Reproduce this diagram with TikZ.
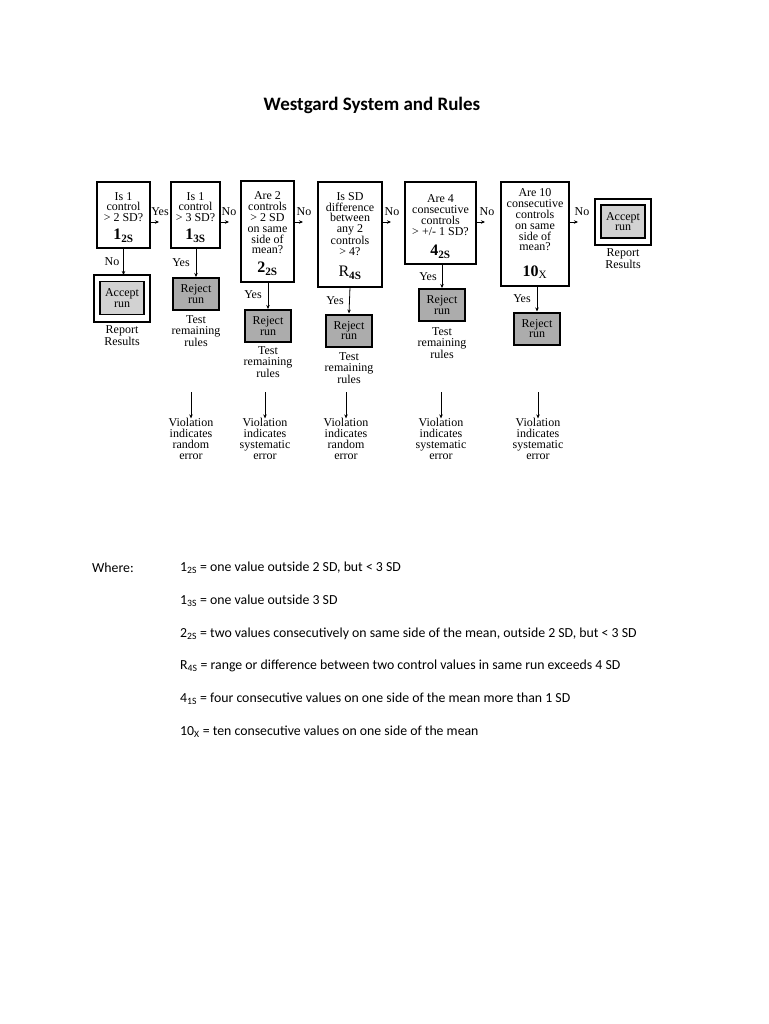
\documentclass[tikz,border=0pt]{standalone}
\usepackage{fontspec}
\setmainfont{Liberation Serif}
\newfontfamily\calfont{Carlito}
\usetikzlibrary{arrows.meta}
\begin{document}
\begin{tikzpicture}[x=1pt,y=-1pt,
 q/.style={draw,line width=2pt},
 t/.style={font=\fontsize{12}{10.8}\selectfont,align=center,inner sep=0},
 lab/.style={font=\fontsize{12}{10.8}\selectfont,inner sep=0},
 big/.style={t,font=\bfseries\fontsize{16}{16}\selectfont},
 ar/.style={-{Stealth[length=4pt,width=3.5pt]},line width=0.8pt},
 rej/.style={draw,line width=2pt,fill=gray!65,font=\fontsize{12}{10.8}\selectfont,align=center,minimum width=46pt,minimum height=32pt,inner sep=0},
 leg/.style={font=\calfont\fontsize{13.8}{14}\selectfont,anchor=west,inner sep=0}]
\useasboundingbox (0,0) rectangle (768,1024);
\node[font=\calfont\bfseries\fontsize{19}{20}\selectfont] (title) at (372,105) {Westgard System and Rules};
% decision boxes
\draw[q] (97,182) rectangle (150,248);
\node[t] (t1) at (123.5,207) {Is 1\\control\\> 2 SD?};
\node[big] (l1) at (123.5,236) {1\textsubscript{2S}};
\draw[q] (171,182) rectangle (220,248);
\node[t] (t2) at (195.5,207) {Is 1\\control\\> 3 SD?};
\node[big] (l2) at (195.5,236) {1\textsubscript{3S}};
\draw[q] (241,181) rectangle (294,282);
\node[t] (t3) at (267.5,223) {Are 2\\controls\\> 2 SD\\on same\\side of\\mean?};
\node[big] (l3) at (267.5,269) {2\textsubscript{2S}};
\draw[q] (318,182) rectangle (382,287);
\node[t] (t4) at (350,224) {Is SD\\difference\\between\\any 2\\controls\\> 4?};
\node[t,font=\fontsize{16}{16}\selectfont] (l4) at (350,273) {R\textsubscript{\bfseries 4S}};
\draw[q] (405,182) rectangle (476,264);
\node[t] (t5) at (440.5,215) {Are 4\\consecutive\\controls\\> +/- 1 SD?};
\node[big] (l5) at (440.5,252) {4\textsubscript{2S}};
\draw[q] (501,182) rectangle (569,286);
\node[t] (t6) at (535,220) {Are 10\\consecutive\\controls\\on same\\side of\\mean?};
\node[big] (l6) at (535,272) {10\textsubscript{\mdseries X}};
% accept boxes
\draw[q] (94,275) rectangle (150,322);
\node[draw,line width=1.2pt,fill=gray!35,t,minimum width=44pt,minimum height=33pt] (a1) at (122,298) {Accept\\run};
\node[t] (r1) at (122,336) {Report\\Results};
\draw[q] (595,199) rectangle (651,245);
\node[draw,line width=1.2pt,fill=gray!35,t,minimum width=44pt,minimum height=33pt] (a2) at (623,221.5) {Accept\\run};
\node[t] (r2) at (623,259) {Report\\Results};
% reject boxes
\node[rej] (j1) at (196,294) {Reject\\run};
\node[rej] (j2) at (268,326) {Reject\\run};
\node[rej] (j3) at (349,330.5) {Reject\\run};
\node[rej] (j4) at (442,305) {Reject\\run};
\node[rej] (j5) at (537,328.5) {Reject\\run};
\node[t] (x1) at (196,331) {Test\\remaining\\rules};
\node[t] (x2) at (268,362) {Test\\remaining\\rules};
\node[t] (x3) at (349,368) {Test\\remaining\\rules};
\node[t] (x4) at (442,343) {Test\\remaining\\rules};
% horizontal stubs
\foreach \a/\b in {150/159,220/229,294/303,382/391,476/485,569/578}{
 \draw[ar] (\a,222) -- (\b,222);
}
\node[lab] (y1) at (160,212) {Yes};
\node[lab] (n2) at (229,212) {No};
\node[lab] (n3) at (304,212) {No};
\node[lab] (n4) at (392,212) {No};
\node[lab] (n5) at (487,212) {No};
\node[lab] (n6) at (582,212) {No};
% vertical arrows
\draw[ar] (123.5,248) -- (123.5,275);
\node[lab] (vn1) at (112,262) {No};
\draw[ar] (196,248) -- (j1.north);
\node[lab] (vy2) at (181,263) {Yes};
\draw[ar] (268,282) -- (j2.north);
\node[lab] (vy3) at (253,295) {Yes};
\draw[ar] (350,287) -- (j3.north);
\node[lab] (vy4) at (335,301) {Yes};
\draw[ar] (442,264) -- (j4.north);
\node[lab] (vy5) at (428,277) {Yes};
\draw[ar] (537,286) -- (j5.north);
\node[lab] (vy6) at (522,299) {Yes};
% violation
\foreach \x/\w [count=\i] in {191/random,265/systematic,346/random,441/systematic,538/systematic}{
 \node[t] (v\i) at (\x,439) {Violation\\indicates\\\w\\error};
 \coordinate (s\i) at (\x,392);
 \draw[ar] (s\i) -- (v\i.north);
}
% legend
\node[leg] (w) at (92,568) {Where:};
\node[leg] (g1) at (180,568) {1\textsubscript{2S} = one value outside 2 SD, but < 3 SD};
\node[leg] (g2) at (180,601) {1\textsubscript{3S} = one value outside 3 SD};
\node[leg] (g3) at (180,634) {2\textsubscript{2S} = two values consecutively on same side of the mean, outside 2 SD, but < 3 SD};
\node[leg] (g4) at (180,666) {R\textsubscript{4S} = range or difference between two control values in same run exceeds 4 SD};
\node[leg] (g5) at (180,699) {4\textsubscript{1S} = four consecutive values on one side of the mean more than 1 SD};
\node[leg] (g6) at (180,732) {10\textsubscript{X} = ten consecutive values on one side of the mean};
\end{tikzpicture}
\end{document}
